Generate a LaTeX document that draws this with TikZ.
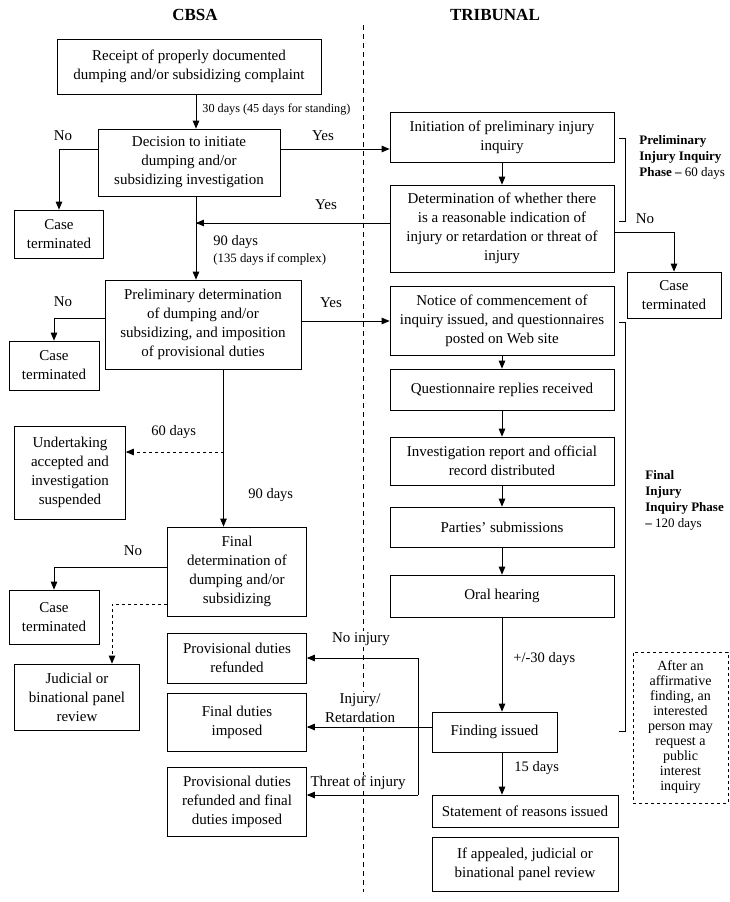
\documentclass[tikz,border=0pt]{standalone}
\usepackage{fontspec}
\setmainfont{Liberation Serif}
\usetikzlibrary{arrows}
\tikzset{
box/.style={draw, rectangle, align=center, inner sep=1pt, line width=0.8pt, font=\fontsize{15}{19}\selectfont},
lbl/.style={inner sep=1pt, font=\fontsize{15}{18}\selectfont},
days/.style={inner sep=1pt, anchor=west, align=left, font=\fontsize{14.5}{17}\selectfont},
phase/.style={inner sep=0pt, anchor=north west, align=left, font=\bfseries\fontsize{13}{16}\selectfont},
head/.style={inner sep=0pt, font=\bfseries\fontsize{17}{20}\selectfont},
>=triangle 45
}

\begin{document}
\begin{tikzpicture}[x=1pt, y=-1pt, line width=0.8pt]
\useasboundingbox (0,0) rectangle (729,902);

\draw[line width=0.6pt, dash pattern=on 5pt off 4pt] (363,25) -- (363,892);

\node[head] (cbsa) at (195,15) {CBSA};
\node[head] (trib) at (495,15) {TRIBUNAL};

\coordinate (sp1) at (196,0);
\coordinate (sp2) at (223.5,0);

\node[box, minimum width=264pt, minimum height=55pt] (rec) at (189,66.5) {Receipt of properly documented\\dumping and/or subsidizing complaint};
\node[box, minimum width=182pt, minimum height=67pt] (dec) at (189,162.5) {Decision to initiate\\dumping and/or\\subsidizing investigation};
\node[box, minimum width=89pt, minimum height=48pt] (ct1) at (59,234) {Case\\terminated};
\node[box, minimum width=196pt, minimum height=89pt] (pre) at (203,324.5) {Preliminary determination\\of dumping and/or\\subsidizing, and imposition\\of provisional duties};
\node[box, minimum width=90pt, minimum height=49pt] (ct3) at (54,365.5) {Case\\terminated};
\node[box, minimum width=111pt, minimum height=93pt] (und) at (70,472.5) {Undertaking\\accepted and\\investigation\\suspended};
\node[box, minimum width=139pt, minimum height=89pt] (fin) at (237,571.5) {Final\\determination of\\dumping and/or\\subsidizing};
\node[box, minimum width=90pt, minimum height=54pt] (ct4) at (54,617) {Case\\terminated};
\node[box, minimum width=125pt, minimum height=66pt] (jud) at (77,697) {Judicial or\\binational panel\\review};
\node[box, minimum width=139pt, minimum height=50pt] (prf) at (237,658) {Provisional duties\\refunded};
\node[box, minimum width=139pt, minimum height=58pt] (fdi) at (237,722) {Final duties\\imposed};
\node[box, minimum width=139pt, minimum height=69pt] (pfd) at (237,801.5) {Provisional duties\\refunded and final\\duties imposed};

\node[box, minimum width=224pt, minimum height=50pt] (ini) at (502,137) {Initiation of preliminary injury\\inquiry};
\node[box, minimum width=224pt, minimum height=87pt] (det) at (502,228.5) {Determination of whether there\\is a reasonable indication of\\injury or retardation or threat of\\injury};
\node[box, minimum width=94pt, minimum height=46pt] (ct2) at (674,295) {Case\\terminated};
\foreach \n/\y/\h/\t in {ntc/320.5/69/{Notice of commencement of\\inquiry issued, and questionnaires\\posted on Web site},
  que/389.5/41/{Questionnaire replies received},
  inv/461/48/{Investigation report and official\\record distributed},
  par/527/40/{Parties’ submissions},
  ora/596/42/{Oral hearing}}
  \node[box, minimum width=224pt, minimum height=\h pt] (\n) at (502,\y) {\t};
\node[box, minimum width=125pt, minimum height=40pt] (fnd) at (494.5,732) {Finding issued};
\node[box, minimum width=186pt, minimum height=32pt] (sta) at (525,811) {Statement of reasons issued};
\node[box, minimum width=186pt, minimum height=54pt] (app) at (525,864) {If appealed, judicial or\\binational panel review};
\node[box, dashed, minimum width=95pt, minimum height=151pt, inner sep=1pt, font=\fontsize{14}{15}\selectfont] (aft) at (680.5,727.5) {After an\\affirmative\\finding, an\\interested\\person may\\request a\\public\\interest\\inquiry};

\draw[->] (rec.south -| sp1) -- (dec.north -| sp1);
\node[days, font=\fontsize{12.2}{14}\selectfont] (d30) at (201,110) {30 days (45 days for standing)};
\draw[->] ([yshift=13.5pt]dec.west) -| (ct1);
\node[lbl] (no1) at (63,136) {No};
\coordinate (d1) at ([yshift=13.5pt]dec.east);
\draw[->] (d1) -- (d1 -| ini.west);
\node[lbl] (yes1) at (323,136) {Yes};
\draw[->] (ini) -- (det);
\coordinate (d2) at ([yshift=5.5pt]det.west);
\draw[->] (d2) -- (d2 -| sp1);
\node[lbl] (yes2) at (326,205) {Yes};
\draw[->] ([yshift=-3.5pt]det.east) -| (ct2);
\node[lbl] (no2) at (645,219) {No};
\draw[->] (dec.south -| sp1) -- (pre.north -| sp1);
\node[days] (d90a) at (212,250) {90 days\\{\fontsize{12.8}{17}\selectfont(135 days if complex)}};

\draw[->] ([yshift=6.5pt]pre.west) -| (ct3);
\node[lbl] (no3) at (63,302) {No};
\coordinate (p1) at ([yshift=3.5pt]pre.east);
\draw[->] (p1) -- (p1 -| ntc.west);
\node[lbl] (yes3) at (331,303) {Yes};
\foreach \a/\b in {ntc/que, que/inv, inv/par, par/ora}
  \draw[->] (\a) -- (\b);

\draw[->] (pre.south -| sp2) -- (fin.north -| sp2);
\coordinate (u1) at (223.5,452);
\draw[dashed, ->] (u1) -- (u1 -| und.east);
\node[days] (d60) at (150,432) {60 days};
\node[days] (d90b) at (247,495) {90 days};
\draw[->] ([yshift=4.5pt]fin.west) -| (ct4);
\node[lbl] (no4) at (133,551) {No};
\coordinate (f2) at ([yshift=-32.5pt]fin.west);
\coordinate (j1) at (112,0);
\draw[dashed, ->] (f2) -| (j1 |- jud.north);

\draw[->] (ora.south) -- (ora.south |- fnd.north);
\node[days] (d30b) at (512,659) {+/-30 days};
\draw[->] (fnd.south -| ora.south) -- (ora.south |- sta.north);
\node[days] (d15) at (513,768) {15 days};
\coordinate (g1) at ([yshift=5pt]fnd.west);
\draw[->] (g1) -- (g1 -| fdi.east);
\coordinate (g2) at (418,658);
\coordinate (g3) at (418,795);
\draw (g2) -- (g3);
\draw[->] (g2) -- (prf.east);
\draw[->] (g3) -- (g3 -| pfd.east);
\node[lbl, fill=white] (noinj) at (361,639) {No injury};
\node[lbl, fill=white, align=center, font=\fontsize{15}{19}\selectfont] (inj) at (360,708) {Injury/\\Retardation};
\node[lbl, fill=white] (thr) at (358,783) {Threat of injury};

\draw (619,138) -- (625,138) -- (625,221) -- (619,221);
\node[phase] (ph1) at (639,135) {Preliminary\\Injury Inquiry\\Phase -- {\mdseries 60 days}};
\draw (619,322) -- (625,322) -- (625,731) -- (619,731);
\node[phase] (ph2) at (645,470) {Final\\Injury\\Inquiry Phase\\-- {\mdseries 120 days}};
\end{tikzpicture}
\end{document}
